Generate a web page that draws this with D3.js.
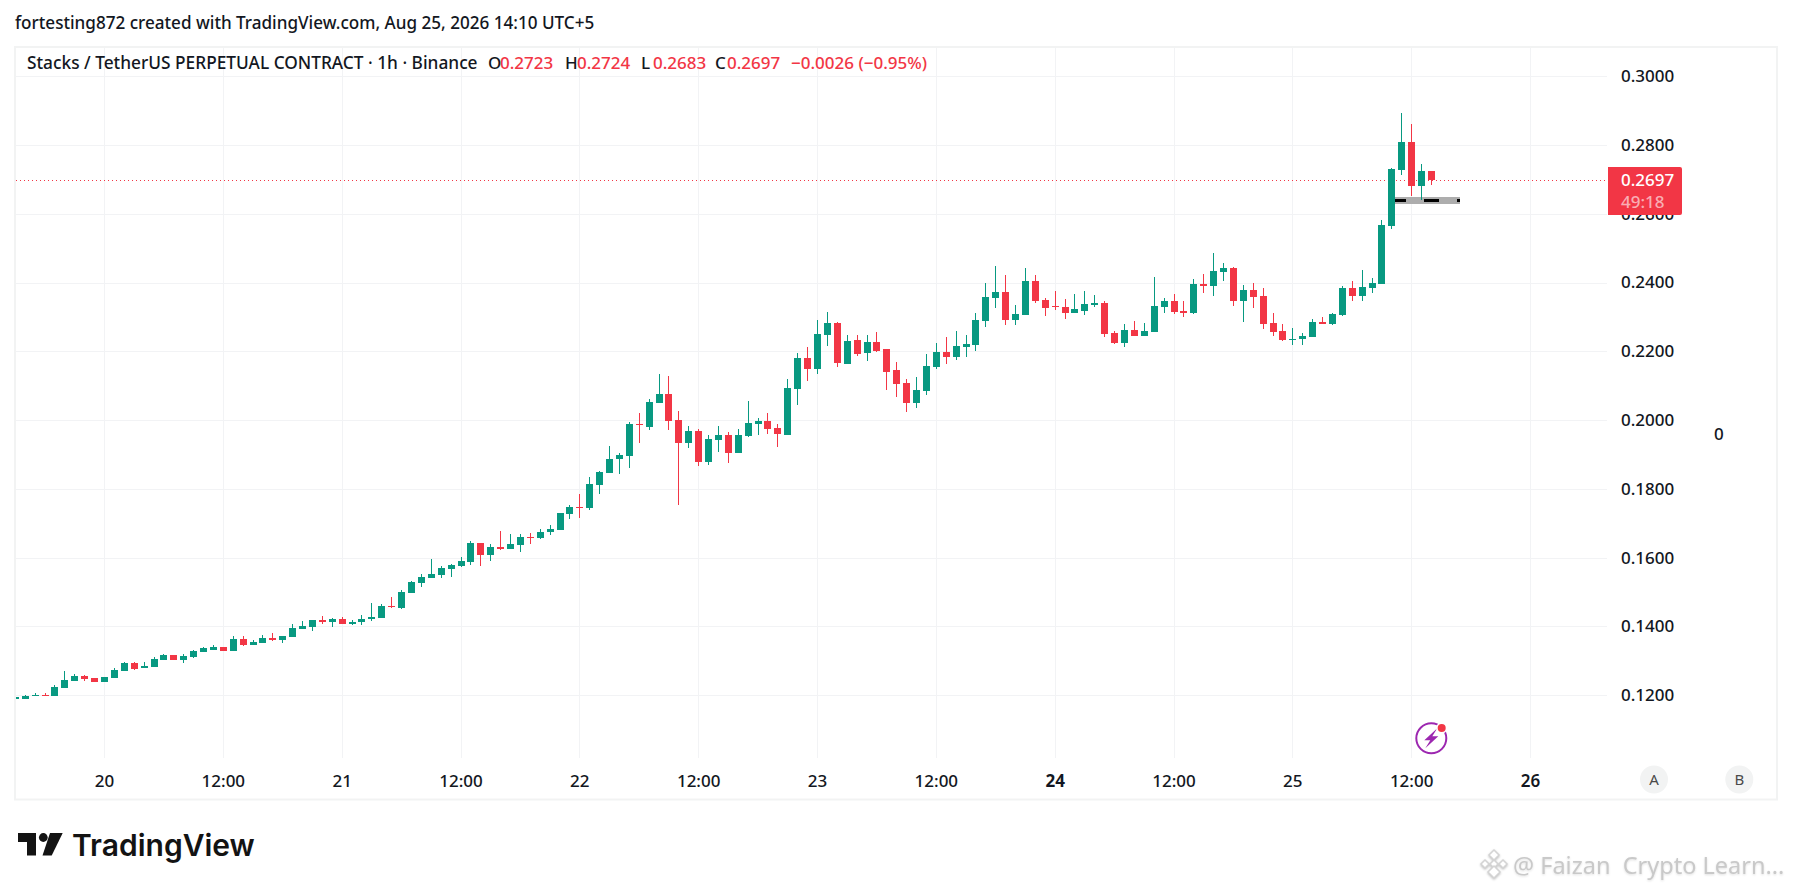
<!DOCTYPE html>
<html>
<head>
<meta charset="utf-8">
<script src="https://cdn.jsdelivr.net/npm/d3@7"></script>
<style>
  html, body { margin: 0; padding: 0; background: #fff; overflow: hidden; }
  svg { display: block; }
  text { font-family: "Noto Sans", sans-serif; fill: #131722; }
  .axis text { font-size: 17px; font-weight: 500; }
  .axis .domain, .axis line { display: none; }
</style>
</head>
<body>
<svg id="chart" width="1793" height="890"></svg>
<script>
// hours relative to midnight of the 20th
const hours = d3.range(-9, 135);

const opens = [0.1189,0.1189,0.1198,0.1201,0.1198,0.1221,0.1242,0.1256,0.1250,0.1239,0.1250,0.1271,0.1294,0.1279,0.1282,0.1303,0.1317,0.1303,0.1311,0.1326,0.1332,0.1341,0.1329,0.1364,0.1346,0.1352,0.1367,0.1361,0.1370,0.1393,0.1399,0.1419,0.1413,0.1422,0.1407,0.1413,
  0.1422,0.1425,0.1460,0.1454,0.1497,0.1527,0.1541,0.1550,0.1567,0.1576,0.1587,0.1642,0.1608,0.1631,0.1625,0.1637,0.1660,0.1657,0.1674,0.1680,0.1727,0.1747,0.1744,0.1811,0.1846,0.1887,0.1895,0.1988,0.1980,0.2049,
  0.2076,0.2000,0.1933,0.1968,0.1878,0.1942,0.1956,0.1904,0.1953,0.1988,0.1997,0.1977,0.1957,0.2090,0.2181,0.2149,0.2247,0.2282,0.2163,0.2233,0.2195,0.2227,0.2207,0.2146,0.2108,0.2050,0.2085,0.2154,0.2198,0.2184,
  0.2213,0.2218,0.2288,0.2355,0.2372,0.2291,0.2306,0.2404,0.2349,0.2332,0.2329,0.2311,0.2317,0.2335,0.2341,0.2253,0.2224,0.2262,0.2245,0.2256,0.2329,0.2346,0.2317,0.2311,0.2396,0.2390,0.2431,0.2442,0.2346,0.2378,
  0.2361,0.2282,0.2259,0.2233,0.2236,0.2242,0.2285,0.2279,0.2306,0.2384,0.2361,0.2384,0.2396,0.2564,0.2727,0.2809,0.2681,0.2723];
const highs = [0.1195,0.1201,0.1207,0.1207,0.1230,0.1271,0.1262,0.1259,0.1250,0.1253,0.1279,0.1297,0.1297,0.1297,0.1311,0.1320,0.1317,0.1320,0.1332,0.1341,0.1346,0.1341,0.1372,0.1372,0.1361,0.1375,0.1381,0.1372,0.1407,0.1416,0.1419,0.1431,0.1425,0.1428,0.1419,0.1434,
  0.1468,0.1466,0.1486,0.1506,0.1532,0.1553,0.1596,0.1576,0.1581,0.1602,0.1648,0.1642,0.1640,0.1677,0.1669,0.1669,0.1672,0.1683,0.1695,0.1730,0.1753,0.1785,0.1834,0.1852,0.1924,0.1904,0.1994,0.2020,0.2061,0.2134,
  0.2128,0.2026,0.1983,0.1974,0.1956,0.1983,0.1965,0.1974,0.2055,0.2006,0.2020,0.1988,0.2120,0.2195,0.2213,0.2291,0.2314,0.2285,0.2247,0.2247,0.2247,0.2256,0.2207,0.2169,0.2120,0.2125,0.2192,0.2224,0.2242,0.2259,
  0.2247,0.2311,0.2399,0.2448,0.2422,0.2335,0.2442,0.2422,0.2355,0.2375,0.2352,0.2367,0.2375,0.2364,0.2346,0.2259,0.2279,0.2288,0.2282,0.2416,0.2355,0.2367,0.2346,0.2410,0.2425,0.2486,0.2457,0.2445,0.2393,0.2399,
  0.2384,0.2311,0.2279,0.2268,0.2253,0.2294,0.2300,0.2311,0.2390,0.2404,0.2436,0.2413,0.2582,0.2733,0.2893,0.2861,0.2745,0.2724];
const lows = [0.1189,0.1189,0.1198,0.1198,0.1198,0.1221,0.1242,0.1242,0.1239,0.1239,0.1250,0.1271,0.1274,0.1279,0.1282,0.1303,0.1303,0.1294,0.1309,0.1326,0.1332,0.1329,0.1329,0.1343,0.1346,0.1352,0.1358,0.1352,0.1370,0.1393,0.1387,0.1407,0.1399,0.1407,0.1404,0.1404,
  0.1416,0.1425,0.1454,0.1451,0.1497,0.1515,0.1541,0.1541,0.1544,0.1573,0.1578,0.1576,0.1590,0.1622,0.1625,0.1616,0.1640,0.1654,0.1666,0.1680,0.1712,0.1715,0.1738,0.1785,0.1846,0.1843,0.1860,0.1933,0.1971,0.2049,
  0.1971,0.1753,0.1919,0.1866,0.1869,0.1907,0.1875,0.1904,0.1951,0.1956,0.1959,0.1922,0.1957,0.2044,0.2114,0.2134,0.2216,0.2154,0.2163,0.2186,0.2172,0.2198,0.2088,0.2067,0.2024,0.2035,0.2073,0.2149,0.2163,0.2175,
  0.2184,0.2201,0.2271,0.2326,0.2277,0.2277,0.2306,0.2341,0.2303,0.2320,0.2294,0.2311,0.2306,0.2329,0.2242,0.2221,0.2213,0.2245,0.2245,0.2256,0.2311,0.2309,0.2300,0.2309,0.2370,0.2361,0.2404,0.2332,0.2285,0.2326,
  0.2265,0.2245,0.2230,0.2218,0.2218,0.2242,0.2279,0.2277,0.2303,0.2346,0.2346,0.2370,0.2396,0.2555,0.2713,0.2651,0.2640,0.2683];
const closes = [0.1195,0.1198,0.1201,0.1198,0.1224,0.1245,0.1256,0.1247,0.1239,0.1253,0.1274,0.1294,0.1277,0.1285,0.1306,0.1317,0.1303,0.1314,0.1329,0.1338,0.1341,0.1329,0.1364,0.1346,0.1355,0.1367,0.1361,0.1372,0.1396,0.1402,0.1419,0.1413,0.1422,0.1407,0.1413,0.1422,
  0.1428,0.1460,0.1457,0.1500,0.1529,0.1544,0.1553,0.1570,0.1578,0.1590,0.1642,0.1608,0.1631,0.1625,0.1640,0.1660,0.1657,0.1674,0.1683,0.1730,0.1747,0.1744,0.1814,0.1849,0.1887,0.1898,0.1988,0.1985,0.2052,0.2076,
  0.1997,0.1933,0.1968,0.1878,0.1945,0.1956,0.1904,0.1956,0.1991,0.1997,0.1974,0.1959,0.2093,0.2181,0.2149,0.2250,0.2282,0.2166,0.2230,0.2192,0.2227,0.2201,0.2140,0.2105,0.2050,0.2088,0.2157,0.2198,0.2184,0.2216,
  0.2221,0.2291,0.2358,0.2372,0.2291,0.2309,0.2404,0.2346,0.2326,0.2329,0.2311,0.2323,0.2338,0.2341,0.2250,0.2224,0.2262,0.2245,0.2259,0.2332,0.2346,0.2314,0.2311,0.2396,0.2390,0.2434,0.2442,0.2346,0.2378,0.2358,
  0.2279,0.2256,0.2233,0.2236,0.2245,0.2285,0.2279,0.2309,0.2384,0.2361,0.2387,0.2399,0.2567,0.2730,0.2809,0.2681,0.2724,0.2697];

const priceTicks = [0.12, 0.14, 0.16, 0.18, 0.20, 0.22, 0.24, 0.26, 0.28, 0.30];
const timeTicks = [0, 12, 24, 36, 48, 60, 72, 84, 96, 108, 120, 132, 144];
const timeLabels = ["20", "12:00", "21", "12:00", "22", "12:00", "23", "12:00", "24", "12:00", "25", "12:00", "26"];

const lastPrice = 0.2697;
const markerPrice = 0.2640;

const GREEN = "#089981", RED = "#F23645", GRID = "#f2f3f5";

const svg = d3.select("#chart");
const x = d3.scaleLinear().domain([0, 144]).range([104.5, 1530.5]);
const y = d3.scaleLinear().domain([0.12, 0.30]).range([695.3, 76.1]);

// outer frame
svg.append("rect").attr("x", 15).attr("y", 47).attr("width", 1762).attr("height", 752.5)
  .attr("fill", "none").attr("stroke", "#f2f3f3").attr("stroke-width", 2);

// clip for the candles
svg.append("clipPath").attr("id", "pane").append("rect")
  .attr("x", 16).attr("y", 48).attr("width", 1591).attr("height", 710);

// grid
svg.append("g").selectAll("line").data(priceTicks).enter().append("line")
  .attr("x1", 16).attr("x2", 1607)
  .attr("y1", d => Math.round(y(d)) + 0.5).attr("y2", d => Math.round(y(d)) + 0.5)
  .attr("stroke", GRID);
svg.append("g").selectAll("line").data(timeTicks).enter().append("line")
  .attr("x1", d => Math.floor(x(d)) + 0.5).attr("x2", d => Math.floor(x(d)) + 0.5)
  .attr("y1", 48).attr("y2", 758)
  .attr("stroke", GRID);

// last price line
svg.append("line").attr("x1", 16).attr("x2", 1607)
  .attr("y1", Math.round(y(lastPrice)) + 0.5).attr("y2", Math.round(y(lastPrice)) + 0.5)
  .attr("stroke", RED).attr("stroke-dasharray", "1 3");

// grey marker under the last candles
const markerY = Math.round(y(markerPrice));
svg.append("rect").attr("x", 1395).attr("y", markerY - 3).attr("width", 65).attr("height", 7).attr("fill", "#adadad");
svg.append("line").attr("x1", 1395).attr("x2", 1460)
  .attr("y1", markerY + 0.5).attr("y2", markerY + 0.5)
  .attr("stroke", "#000").attr("stroke-width", 3).attr("stroke-dasharray", "11 18 15 18 3");

// candles
const candles = svg.append("g").attr("clip-path", "url(#pane)")
  .selectAll("g").data(hours).enter().append("g");
candles.append("rect")
  .attr("x", d => Math.floor(x(d)))
  .attr("width", 1)
  .attr("y", (d, i) => Math.round(y(highs[i])))
  .attr("height", (d, i) => Math.max(1, Math.round(y(lows[i])) - Math.round(y(highs[i]))))
  .attr("fill", (d, i) => closes[i] >= opens[i] ? GREEN : RED);
candles.append("rect")
  .attr("x", d => Math.floor(x(d)) - 3)
  .attr("width", 7)
  .attr("y", (d, i) => Math.round(y(Math.max(opens[i], closes[i]))))
  .attr("height", (d, i) => Math.max(1, Math.round(y(Math.min(opens[i], closes[i]))) - Math.round(y(Math.max(opens[i], closes[i])))))
  .attr("fill", (d, i) => closes[i] >= opens[i] ? GREEN : RED);

// axes
const yAxis = d3.axisRight(y).tickValues(priceTicks).tickSize(0).tickPadding(0).tickFormat(d3.format(".4f"));
svg.append("g").attr("class", "axis").attr("transform", "translate(1621,0)").call(yAxis)
  .selectAll("text").attr("text-anchor", "start");

const xAxis = d3.axisBottom(x).tickValues(timeTicks).tickSize(0).tickPadding(0)
  .tickFormat((d, i) => timeLabels[i]);
svg.append("g").attr("class", "axis").attr("transform", "translate(-0.5,774.5)").call(xAxis)
  .selectAll("text").style("font-weight", d => d === 96 ? 700 : d === 144 ? 600 : null);

// last price label
svg.append("path").attr("d", "M1608 167H1680a2 2 0 0 1 2 2V213a2 2 0 0 1 -2 2H1608Z").attr("fill", RED);
svg.append("text").attr("x", 1621).attr("y", 186).attr("font-size", 17).attr("font-weight", 500)
  .style("fill", "#fff").text(d3.format(".4f")(lastPrice));
svg.append("text").attr("x", 1621).attr("y", 208).attr("font-size", 17).attr("font-weight", 500)
  .style("fill", "#fff").style("fill-opacity", 0.6).text("49:18");

// stray zero on the axis
svg.append("text").attr("x", 1714).attr("y", 440).attr("font-size", 17).attr("font-weight", 500).text("0");

// header
svg.append("text").attr("x", 15).attr("y", 29).attr("font-size", 17.1).attr("font-weight", 500)
  .text("fortesting872 created with TradingView.com, Aug 25, 2026 14:10 UTC+5");
svg.append("text").attr("x", 27).attr("y", 69).attr("font-size", 17.3).attr("font-weight", 500)
  .text("Stacks / TetherUS PERPETUAL CONTRACT · 1h · Binance");

const legendLabels = [["O", 488, "0.2723"], ["H", 565, "0.2724"], ["L", 641, "0.2683"], ["C", 715, "0.2697"]];
legendLabels.forEach(l => {
  svg.append("text").attr("x", l[1]).attr("y", 69).attr("font-size", 17).attr("font-weight", 500).text(l[0]);
  svg.append("text").attr("x", l[1] + 12).attr("y", 69).attr("font-size", 17).attr("font-weight", 500)
    .style("fill", RED).text(l[2]);
});
svg.append("text").attr("x", 791).attr("y", 69).attr("font-size", 17).attr("font-weight", 500)
  .style("fill", RED).text("−0.0026 (−0.95%)");

// lightning badge
const badge = svg.append("g").attr("transform", "translate(1431.3,738.3)");
badge.append("circle").attr("r", 15).attr("fill", "none").attr("stroke", "#9c27b0").attr("stroke-width", 2);
badge.append("path").attr("d", "M6 -10L-7 2H-1L-6 10L7 -2H1Z").attr("fill", "#9c27b0");
badge.append("circle").attr("cx", 10.4).attr("cy", -10.3).attr("r", 5.5).attr("fill", "#fff");
badge.append("circle").attr("cx", 10.4).attr("cy", -10.3).attr("r", 4).attr("fill", RED);

// A / B buttons
[["A", 1654], ["B", 1739.3]].forEach(b => {
  svg.append("circle").attr("cx", b[1]).attr("cy", 779.5).attr("r", 14).attr("fill", "#f2f3f3");
  svg.append("text").attr("x", b[1]).attr("y", 785).attr("text-anchor", "middle")
    .attr("font-size", 15).style("fill", "#4a4a4a").text(b[0]);
});

// TradingView logo
const logo = svg.append("g").attr("fill", "#131313");
logo.append("path").attr("d", "M18 833H36V855.5H27V842H18Z");
logo.append("circle").attr("cx", 43.3).attr("cy", 837.5).attr("r", 4.4);
logo.append("path").attr("d", "M50 833H62.7L51.7 855.5H42.5Z");
svg.append("text").attr("x", 72).attr("y", 855.5).attr("font-size", 30).attr("font-weight", 600)
  .style("font-family", "Inter, sans-serif").style("fill", "#131313").text("TradingView");

// watermark
const mark = svg.append("g").attr("transform", "translate(1494,864)")
  .attr("fill", "#fff").attr("stroke", "#d4d4d4").attr("stroke-width", 1.5)
  .style("filter", "drop-shadow(0 1px 1px rgba(0,0,0,0.25))");
[[0, -9, 5], [-9, 0, 4], [9, 0, 4], [0, 0, 4], [0, 8, 6]].forEach(m => {
  mark.append("path").attr("d", `M${m[0]} ${m[1] - m[2]}L${m[0] + m[2]} ${m[1]}L${m[0]} ${m[1] + m[2]}L${m[0] - m[2]} ${m[1]}Z`);
});
svg.append("text").attr("x", 1513).attr("y", 874).attr("font-size", 23.5)
  .style("fill", "#c9c9c9").style("white-space", "pre")
  .style("filter", "drop-shadow(0 1px 1px rgba(0,0,0,0.12))")
  .text("@ Faizan  Crypto Learn...");
</script>
</body>
</html>
